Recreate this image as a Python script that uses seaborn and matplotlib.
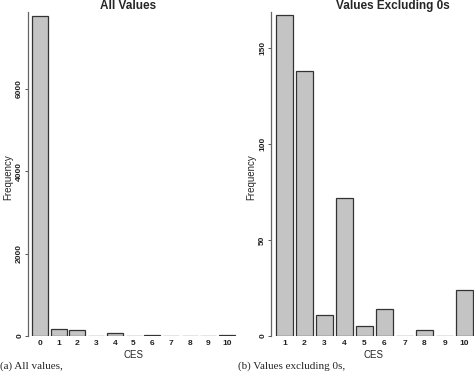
import matplotlib
matplotlib.use("Agg")
import matplotlib.pyplot as plt
import seaborn as sns
import pandas as pd

# CES histogram counts
ces_all = ["0", "1", "2", "3", "4", "5", "6", "7", "8", "9", "10"]
freq_all = [7780, 167, 138, 11, 72, 5, 14, 0, 3, 0, 24]

ces_nonzero = ["1", "2", "3", "4", "5", "6", "7", "8", "9", "10"]
freq_nonzero = [167, 138, 11, 72, 5, 14, 0, 3, 0, 24]

left_ticks = [0, 2000, 4000, 6000]
right_ticks = [0, 50, 100, 150]

sns.set_theme(style="white")
plt.rcParams["font.family"] = ["Liberation Sans", "DejaVu Sans"]

W, H = 474, 372
fig = plt.figure(figsize=(W / 100, H / 100), dpi=100)


def px_axes(x0, x1, ytop, ybot):
    return fig.add_axes([x0 / W, 1 - ybot / H, (x1 - x0) / W, (ybot - ytop) / H])


def draw_panel(ax, cats, freqs, ticks, ymax, xlim):
    df = pd.DataFrame({"CES": cats, "Frequency": freqs})
    sns.barplot(data=df, x="CES", y="Frequency", order=cats, color="#c4c4c4",
                edgecolor="#333333", linewidth=0.9, width=0.85, saturation=1, ax=ax)
    ax.set_xlim(*xlim)
    ax.set_ylim(0, ymax)
    ax.set_yticks(ticks)
    ax.set_yticklabels([str(t) for t in ticks], rotation=90, va="center", fontsize=6)
    ax.tick_params(axis="y", length=2.5, width=0.7, pad=1, color="#555555", left=True)
    ax.tick_params(axis="x", length=0, pad=3, labelsize=6)
    for lab in ax.get_xticklabels() + ax.get_yticklabels():
        lab.set_fontweight("bold")
        lab.set_color("#222222")
    for side in ["top", "right", "bottom"]:
        ax.spines[side].set_visible(False)
    ax.spines["left"].set_color("#666666")
    ax.spines["left"].set_linewidth(0.9)
    ax.set_xlabel("")
    ax.set_ylabel("")


ax1 = px_axes(28, 236.5, 12, 336)
draw_panel(ax1, ces_all, freq_all, left_ticks, 7870, (-0.64, 10.5))

ax2 = px_axes(271, 474, 12, 336)
draw_panel(ax2, ces_nonzero, freq_nonzero, right_ticks, 168.5, (-0.67, 9.47))

# titles
fig.text(128 / W, 1 - 6 / H, "All Values", ha="center", va="center",
         fontsize=8.5, fontweight="bold")
fig.text(393 / W, 1 - 6 / H, "Values Excluding 0s", ha="center", va="center",
         fontsize=8.5, fontweight="bold")

# axis labels
fig.text(8 / W, 1 - 177 / H, "Frequency", rotation=90, ha="center", va="center", fontsize=7)
fig.text(251 / W, 1 - 177 / H, "Frequency", rotation=90, ha="center", va="center", fontsize=7)
fig.text(133 / W, 1 - 355 / H, "CES", ha="center", va="center", fontsize=7)
fig.text(374 / W, 1 - 355 / H, "CES", ha="center", va="center", fontsize=7)

# captions
fig.text(0 / W, 1 - 366.5 / H, "(a) All values,", ha="left", va="center",
         fontsize=8, family="Liberation Serif")
fig.text(238 / W, 1 - 366.5 / H, "(b) Values excluding 0s,", ha="left", va="center",
         fontsize=8, family="Liberation Serif")

fig.savefig("out.png", dpi=100)
